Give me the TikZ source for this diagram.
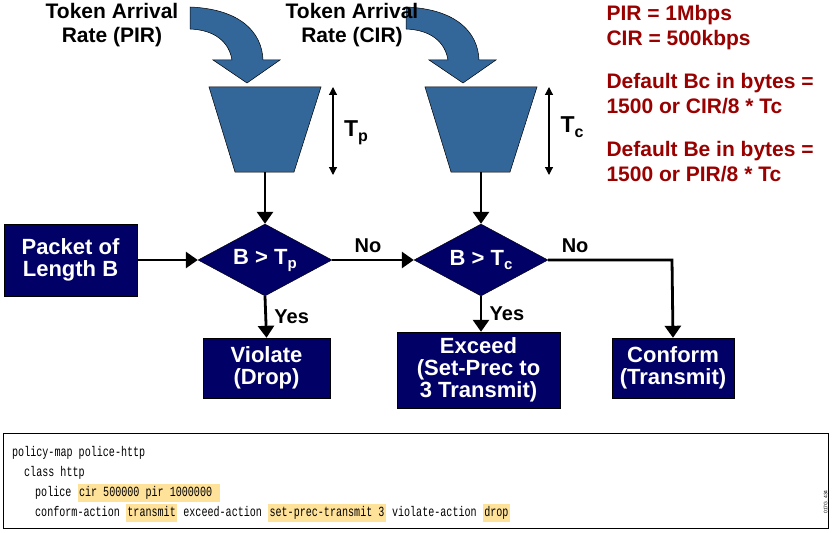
\documentclass[tikz,border=0pt]{standalone}
\usepackage{fontspec}
\setmainfont{Liberation Sans}
\newfontfamily\codefont{Liberation Mono}[FakeStretch=0.72]
\usetikzlibrary{arrows.meta,shapes.geometric}
\definecolor{navy}{HTML}{000066}
\definecolor{steel}{HTML}{336699}
\definecolor{darkred}{HTML}{990000}
\definecolor{hl}{HTML}{FFE29A}
\newcommand{\hlx}[1]{{\setlength{\fboxsep}{1.5pt}\colorbox{hl}{\strut #1}}}
\begin{document}
\begin{tikzpicture}[x=1pt,y=-1pt,
  box/.style={draw=black,fill=navy,text=white,font=\bfseries\fontsize{22}{22}\selectfont,align=center,inner sep=0pt},
  dia/.style={draw=black,fill=navy,text=white,diamond,aspect=1.85,inner sep=0pt,minimum width=134pt,minimum height=72pt,font=\bfseries\fontsize{22}{22}\selectfont},
  flow/.style={line width=2.8pt,-{Triangle[length=12pt,width=16pt]}},
  lbl/.style={font=\bfseries\fontsize{20}{20}\selectfont},
  tl/.style={font=\bfseries\fontsize{21}{24}\selectfont,align=center},
  red/.style={font=\bfseries\fontsize{21}{25}\selectfont,text=darkred,align=left,anchor=north west},
  code/.style={font=\codefont\fontsize{14}{14}\selectfont,anchor=base west,inner sep=0pt}]
\useasboundingbox (0,0) rectangle (834,532);
% arrival arrows and buckets
\foreach \dx in {0,216}{
  \begin{scope}[xshift=\dx]
  \fill[steel,draw=black,line width=0.5pt] (190,7) .. controls (240,9) and (262,32) .. (263,60) -- (280,60) -- (247,83) -- (213,60) -- (232,60) .. controls (229,42) and (215,30) .. (190,29) -- cycle;
  \fill[steel,draw=black,line width=0.5pt] (209,87) -- (321,87) -- (294,172) -- (235,172) -- cycle;
  \end{scope}}
\coordinate (b1) at (265,172);
\coordinate (b2) at (481,172);
\node[tl] (tp) at (112,25) {Token Arrival\\Rate (PIR)};
\node[tl] (tc) at (352,25) {Token Arrival\\Rate (CIR)};
\coordinate (tpa) at (333,87); \coordinate (tpb) at (333,175);
\coordinate (tca) at (549,87); \coordinate (tcb) at (549,175);
\draw[line width=1.2pt,{Triangle[length=8pt,width=8pt]}-{Triangle[length=8pt,width=8pt]}] (tpa) -- (tpb);
\draw[line width=1.2pt,{Triangle[length=8pt,width=8pt]}-{Triangle[length=8pt,width=8pt]}] (tca) -- (tcb);
\node[font=\bfseries\fontsize{23}{23}\selectfont] (tpl) at (356,133) {T\raisebox{-5pt}{\fontsize{16}{16}\selectfont p}};
\node[font=\bfseries\fontsize{23}{23}\selectfont] (tcl) at (572,127) {T\raisebox{-5pt}{\fontsize{16}{16}\selectfont c}};
% red notes
\node[red] (n1) at (603,2) {PIR = 1Mbps\\CIR = 500kbps};
\node[red] (n2) at (603,70) {Default Bc in bytes =\\1500 or CIR/8 * Tc};
\node[red] (n3) at (603,138) {Default Be in bytes =\\1500 or PIR/8 * Tc};
% flow
\node[box,minimum width=133pt,minimum height=72pt] (pk) at (70.5,260) {Packet of\\Length B};
\node[dia] (d1) at (265,260) {B > T\raisebox{-4pt}{\fontsize{15}{15}\selectfont p}};
\node[dia] (d2) at (481,260) {B > T\raisebox{-4pt}{\fontsize{15}{15}\selectfont c}};
\node[box,minimum width=127pt,minimum height=60pt] (vi) at (266.5,368) {Violate\\(Drop)};
\node[box,minimum width=163pt,minimum height=76pt] (ex) at (478.5,370) {Exceed\\(Set-Prec to\\3 Transmit)};
\node[box,minimum width=122pt,minimum height=60pt] (co) at (673,368) {Conform\\(Transmit)};
\draw[flow] (b1) -- (d1.north);
\draw[flow] (b2) -- (d2.north);
\draw[flow] (pk.east) -- (d1.west);
\draw[flow] (d1.east) -- node[lbl,above,xshift=-5pt,yshift=3pt]{No} (d2.west);
\draw[flow] (d2.east) -- node[lbl,above,xshift=-35pt,yshift=3pt]{No} (672,260) -- (co.north);
\draw[flow] (d1.south) -- node[lbl,right,xshift=4pt]{Yes} (vi.north);
\draw[flow] (d2.south) -- node[lbl,right,xshift=4pt]{Yes} (ex.north -| d2.south);
% code box
\node[draw=black,line width=1pt,minimum width=825pt,minimum height=95pt,inner sep=0pt] (cb) at (415.5,480.5) {};
\node[code] (l1) at (12,456) {policy-map police-http};
\node[code] (l2) at (24,476) {class http};
\node[code] (l3) at (35,496) {police \hlx{cir 500000 pir 1000000 }};
\node[code] (l4) at (35,516) {conform-action \hlx{transmit} exceed-action \hlx{set-prec-transmit 3} violate-action \hlx{drop}};
\node[font=\fontsize{5}{5}\selectfont,rotate=90] (id) at (826,502) {017G\_434};
\end{tikzpicture}
\end{document}
